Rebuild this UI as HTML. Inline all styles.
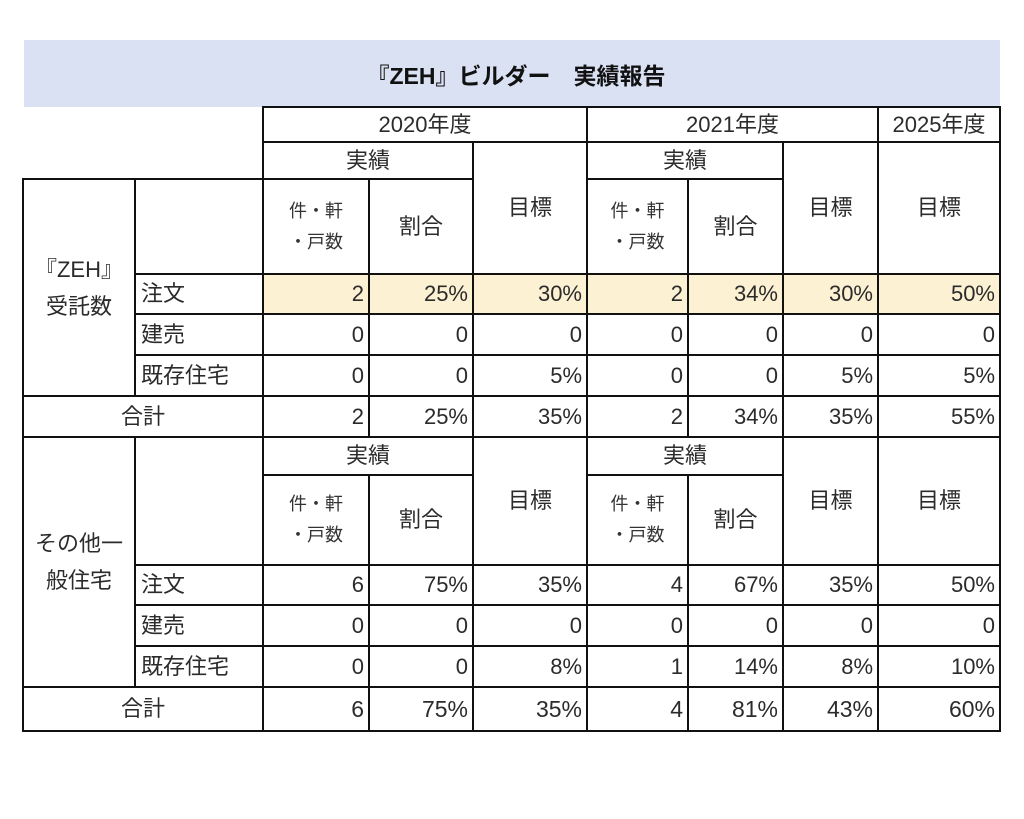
<!DOCTYPE html>
<html><head><meta charset="utf-8">
<style>
html,body{margin:0;padding:0;background:#fff;}
body{width:1024px;height:819px;position:relative;overflow:hidden;font-family:"Liberation Sans","Noto Sans CJK JP",sans-serif;}
.band{position:absolute;left:24px;top:40px;width:976px;height:67px;background:#d9e1f2;display:flex;align-items:center;justify-content:center;font-weight:bold;font-size:23px;color:#111;padding-left:8px;box-sizing:border-box;}
.c{position:absolute;box-sizing:border-box;border:2px solid #111;display:flex;align-items:center;justify-content:center;font-size:22px;line-height:24px;color:#2b2b2b;white-space:nowrap;}
.r{justify-content:flex-end;padding-right:4px;}
.l{justify-content:flex-start;padding-left:5px;}
.s{font-size:18px;line-height:31px;text-align:center;color:#333;}
.m{text-align:center;line-height:37px;}
.h{background:#fdf1d3;}
</style></head><body>
<div class="band">『ZEH』ビルダー　実績報告</div>

<!-- Section 1 header -->
<div class="c" style="left:262px;top:106px;width:326px;height:37px;">2020年度</div>
<div class="c" style="left:586px;top:106px;width:293px;height:37px;">2021年度</div>
<div class="c" style="left:877px;top:106px;width:124px;height:37px;">2025年度</div>
<div class="c" style="left:262px;top:141px;width:212px;height:39px;">実績</div>
<div class="c" style="left:472px;top:141px;width:116px;height:134px;">目標</div>
<div class="c" style="left:586px;top:141px;width:198px;height:39px;">実績</div>
<div class="c" style="left:782px;top:141px;width:97px;height:134px;">目標</div>
<div class="c" style="left:877px;top:141px;width:124px;height:134px;">目標</div>
<div class="c" style="left:262px;top:178px;width:108px;height:97px;"><div class="s">件・軒<br>・戸数</div></div>
<div class="c" style="left:368px;top:178px;width:106px;height:97px;">割合</div>
<div class="c" style="left:586px;top:178px;width:103px;height:97px;"><div class="s">件・軒<br>・戸数</div></div>
<div class="c" style="left:687px;top:178px;width:97px;height:97px;">割合</div>
<div class="c" style="left:22px;top:178px;width:114px;height:219px;"><div class="m">『ZEH』<br>受託数</div></div>
<div class="c" style="left:134px;top:178px;width:130px;height:97px;"></div>

<!-- Section 1 rows -->
<div class="c l" style="left:134px;top:273px;width:130px;height:42px;">注文</div>
<div class="c r h" style="left:262px;top:273px;width:108px;height:42px;">2</div>
<div class="c r h" style="left:368px;top:273px;width:106px;height:42px;">25%</div>
<div class="c r h" style="left:472px;top:273px;width:116px;height:42px;">30%</div>
<div class="c r h" style="left:586px;top:273px;width:103px;height:42px;">2</div>
<div class="c r h" style="left:687px;top:273px;width:97px;height:42px;">34%</div>
<div class="c r h" style="left:782px;top:273px;width:97px;height:42px;">30%</div>
<div class="c r h" style="left:877px;top:273px;width:124px;height:42px;">50%</div>

<div class="c l" style="left:134px;top:313px;width:130px;height:43px;">建売</div>
<div class="c r" style="left:262px;top:313px;width:108px;height:43px;">0</div>
<div class="c r" style="left:368px;top:313px;width:106px;height:43px;">0</div>
<div class="c r" style="left:472px;top:313px;width:116px;height:43px;">0</div>
<div class="c r" style="left:586px;top:313px;width:103px;height:43px;">0</div>
<div class="c r" style="left:687px;top:313px;width:97px;height:43px;">0</div>
<div class="c r" style="left:782px;top:313px;width:97px;height:43px;">0</div>
<div class="c r" style="left:877px;top:313px;width:124px;height:43px;">0</div>

<div class="c l" style="left:134px;top:354px;width:130px;height:43px;">既存住宅</div>
<div class="c r" style="left:262px;top:354px;width:108px;height:43px;">0</div>
<div class="c r" style="left:368px;top:354px;width:106px;height:43px;">0</div>
<div class="c r" style="left:472px;top:354px;width:116px;height:43px;">5%</div>
<div class="c r" style="left:586px;top:354px;width:103px;height:43px;">0</div>
<div class="c r" style="left:687px;top:354px;width:97px;height:43px;">0</div>
<div class="c r" style="left:782px;top:354px;width:97px;height:43px;">5%</div>
<div class="c r" style="left:877px;top:354px;width:124px;height:43px;">5%</div>

<div class="c" style="left:22px;top:395px;width:242px;height:43px;">合計</div>
<div class="c r" style="left:262px;top:395px;width:108px;height:43px;">2</div>
<div class="c r" style="left:368px;top:395px;width:106px;height:43px;">25%</div>
<div class="c r" style="left:472px;top:395px;width:116px;height:43px;">35%</div>
<div class="c r" style="left:586px;top:395px;width:103px;height:43px;">2</div>
<div class="c r" style="left:687px;top:395px;width:97px;height:43px;">34%</div>
<div class="c r" style="left:782px;top:395px;width:97px;height:43px;">35%</div>
<div class="c r" style="left:877px;top:395px;width:124px;height:43px;">55%</div>

<!-- Section 2 header -->
<div class="c" style="left:22px;top:436px;width:114px;height:252px;"><div class="m">その他一<br>般住宅</div></div>
<div class="c" style="left:134px;top:436px;width:130px;height:130px;"></div>
<div class="c" style="left:262px;top:436px;width:212px;height:40px;">実績</div>
<div class="c" style="left:472px;top:436px;width:116px;height:130px;">目標</div>
<div class="c" style="left:586px;top:436px;width:198px;height:40px;">実績</div>
<div class="c" style="left:782px;top:436px;width:97px;height:130px;">目標</div>
<div class="c" style="left:877px;top:436px;width:124px;height:130px;">目標</div>
<div class="c" style="left:262px;top:474px;width:108px;height:92px;"><div class="s">件・軒<br>・戸数</div></div>
<div class="c" style="left:368px;top:474px;width:106px;height:92px;">割合</div>
<div class="c" style="left:586px;top:474px;width:103px;height:92px;"><div class="s">件・軒<br>・戸数</div></div>
<div class="c" style="left:687px;top:474px;width:97px;height:92px;">割合</div>

<!-- Section 2 rows -->
<div class="c l" style="left:134px;top:564px;width:130px;height:42px;">注文</div>
<div class="c r" style="left:262px;top:564px;width:108px;height:42px;">6</div>
<div class="c r" style="left:368px;top:564px;width:106px;height:42px;">75%</div>
<div class="c r" style="left:472px;top:564px;width:116px;height:42px;">35%</div>
<div class="c r" style="left:586px;top:564px;width:103px;height:42px;">4</div>
<div class="c r" style="left:687px;top:564px;width:97px;height:42px;">67%</div>
<div class="c r" style="left:782px;top:564px;width:97px;height:42px;">35%</div>
<div class="c r" style="left:877px;top:564px;width:124px;height:42px;">50%</div>

<div class="c l" style="left:134px;top:604px;width:130px;height:43px;">建売</div>
<div class="c r" style="left:262px;top:604px;width:108px;height:43px;">0</div>
<div class="c r" style="left:368px;top:604px;width:106px;height:43px;">0</div>
<div class="c r" style="left:472px;top:604px;width:116px;height:43px;">0</div>
<div class="c r" style="left:586px;top:604px;width:103px;height:43px;">0</div>
<div class="c r" style="left:687px;top:604px;width:97px;height:43px;">0</div>
<div class="c r" style="left:782px;top:604px;width:97px;height:43px;">0</div>
<div class="c r" style="left:877px;top:604px;width:124px;height:43px;">0</div>

<div class="c l" style="left:134px;top:645px;width:130px;height:43px;">既存住宅</div>
<div class="c r" style="left:262px;top:645px;width:108px;height:43px;">0</div>
<div class="c r" style="left:368px;top:645px;width:106px;height:43px;">0</div>
<div class="c r" style="left:472px;top:645px;width:116px;height:43px;">8%</div>
<div class="c r" style="left:586px;top:645px;width:103px;height:43px;">1</div>
<div class="c r" style="left:687px;top:645px;width:97px;height:43px;">14%</div>
<div class="c r" style="left:782px;top:645px;width:97px;height:43px;">8%</div>
<div class="c r" style="left:877px;top:645px;width:124px;height:43px;">10%</div>

<div class="c" style="left:22px;top:686px;width:242px;height:46px;">合計</div>
<div class="c r" style="left:262px;top:686px;width:108px;height:46px;font-size:23px;">6</div>
<div class="c r" style="left:368px;top:686px;width:106px;height:46px;font-size:23px;">75%</div>
<div class="c r" style="left:472px;top:686px;width:116px;height:46px;font-size:23px;">35%</div>
<div class="c r" style="left:586px;top:686px;width:103px;height:46px;font-size:23px;">4</div>
<div class="c r" style="left:687px;top:686px;width:97px;height:46px;font-size:23px;">81%</div>
<div class="c r" style="left:782px;top:686px;width:97px;height:46px;font-size:23px;">43%</div>
<div class="c r" style="left:877px;top:686px;width:124px;height:46px;font-size:23px;">60%</div>
</body></html>
